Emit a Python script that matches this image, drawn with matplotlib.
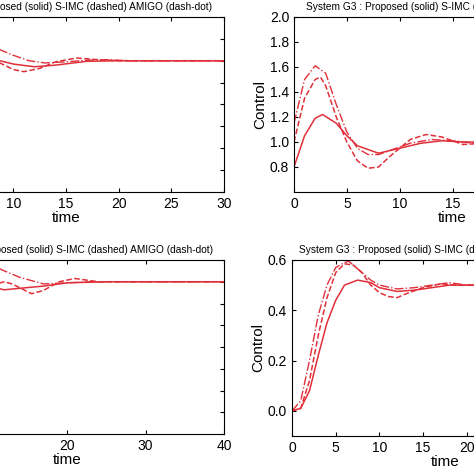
import matplotlib
matplotlib.use("Agg")
import matplotlib.pyplot as plt

plt.rcParams['font.family'] = ['Liberation Sans', 'DejaVu Sans']

# Top-left (System G2 output)
tl_t_s = [0, 2, 4, 6, 8.5, 10, 12, 14, 17, 20, 30]
tl_y_s = [0, 0.9, 1.3, 1.25, 1.205, 1.17, 1.145, 1.16, 1.195, 1.2, 1.2]
tl_t_d = [0, 2, 4, 6, 8.5, 10, 11, 12.5, 14, 16, 18, 20, 30]
tl_y_d = [0, 1.0, 1.4, 1.3, 1.19, 1.12, 1.1, 1.13, 1.19, 1.225, 1.21, 1.2, 1.2]
tl_t_c = [0, 2, 4, 6, 8.5, 10, 11.5, 13, 15, 17, 19, 21, 30]
tl_y_c = [0, 1.1, 1.45, 1.38, 1.31, 1.25, 1.2, 1.18, 1.19, 1.205, 1.21, 1.2, 1.2]

# Top-right (System G3 control)
tr_t_s = [0, 1, 2, 2.7, 4, 5, 6, 8, 10, 12, 14, 16, 20, 30]
tr_y_s = [0.8, 1.05, 1.19, 1.22, 1.15, 1.05, 0.97, 0.91, 0.95, 0.99, 1.01, 1.0, 1.0, 1.0]
tr_t_d = [0, 1, 2, 2.5, 3, 4, 5, 6, 7, 8, 9, 10, 11, 12.5, 14, 16, 18, 20, 30]
tr_y_d = [1.0, 1.35, 1.5, 1.52, 1.45, 1.2, 1.0, 0.85, 0.79, 0.8, 0.88, 0.95, 1.02, 1.06, 1.04, 0.98, 0.99, 1.0, 1.0]
tr_t_c = [0, 1, 2, 3, 4, 5, 6, 7, 8, 9, 11, 13, 15, 17, 20, 30]
tr_y_c = [1.15, 1.5, 1.61, 1.55, 1.3, 1.08, 0.95, 0.9, 0.9, 0.93, 0.99, 1.02, 1.01, 0.99, 1.0, 1.0]

# Bottom-left (System G2 output)
bl_t_s = [0, 3, 6, 8, 10, 12, 14, 17, 20, 25, 40]
bl_y_s = [0, 0.4, 0.7, 0.72, 0.68, 0.663, 0.67, 0.68, 0.695, 0.7, 0.7]
bl_t_d = [0, 3, 6, 8, 10, 12, 13, 15.5, 17, 19, 21, 24, 40]
bl_y_d = [0, 0.5, 0.78, 0.74, 0.68, 0.7, 0.69, 0.645, 0.66, 0.7, 0.715, 0.7, 0.7]
bl_t_c = [0, 3, 6, 9, 12, 14, 17, 20, 23, 40]
bl_y_c = [0, 0.6, 0.82, 0.8, 0.75, 0.72, 0.69, 0.695, 0.7, 0.7]

# Bottom-right (System G3 control)
br_t_s = [0, 1, 2, 3, 4, 5, 6, 7.5, 9, 10, 12, 14, 16, 18, 20, 35]
br_y_s = [0, 0.01, 0.08, 0.22, 0.35, 0.44, 0.5, 0.52, 0.51, 0.49, 0.475, 0.48, 0.49, 0.5, 0.5, 0.5]
br_t_d = [0, 1, 2, 3, 4, 5, 6, 7, 8, 9, 10, 11, 12, 13, 15, 17, 19, 35]
br_y_d = [0, 0.01, 0.12, 0.3, 0.45, 0.55, 0.585, 0.58, 0.55, 0.5, 0.47, 0.455, 0.45, 0.465, 0.49, 0.505, 0.5, 0.5]
br_t_c = [0, 1, 2, 3, 4, 5, 6, 6.5, 8, 9, 10, 12, 14, 16, 18, 20, 35]
br_y_c = [0, 0.04, 0.2, 0.38, 0.5, 0.57, 0.59, 0.595, 0.55, 0.52, 0.5, 0.485, 0.49, 0.5, 0.51, 0.5, 0.5]

RED = '#e0303a'
fig = plt.figure(figsize=(4.74, 4.74), dpi=100)
W = H = 474.0

def ax_at(x0, x1, y0, y1):
    return fig.add_axes([x0 / W, 1 - y1 / H, (x1 - x0) / W, (y1 - y0) / H])

specs = [
    (ax_at(-92, 224, 17, 192), 'System G2', (0, 30), (0, 1.6), [i * 0.2 for i in range(9)],
     (tl_t_s, tl_y_s, tl_t_d, tl_y_d, tl_t_c, tl_y_c), 'Output'),
    (ax_at(294, 611, 17, 192), 'System G3', (0, 30), (0.6, 2.0), [0.8, 1, 1.2, 1.4, 1.6, 1.8, 2],
     (tr_t_s, tr_y_s, tr_t_d, tr_y_d, tr_t_c, tr_y_c), 'Control'),
    (ax_at(-90, 224, 260, 434), 'System G2', (0, 40), (0, 0.8), [i * 0.1 for i in range(9)],
     (bl_t_s, bl_y_s, bl_t_d, bl_y_d, bl_t_c, bl_y_c), 'Output'),
    (ax_at(292, 598, 260, 436), 'System G3', (0, 35), (-0.1, 0.6), None,
     (br_t_s, br_y_s, br_t_d, br_y_d, br_t_c, br_y_c), 'Control'),
]

for ax, name, xl, yl, yt, d, ylab in specs:
    ax.plot(d[0], d[1], '-', color=RED, lw=1.1)
    ax.plot(d[2], d[3], '--', color=RED, lw=1.1)
    ax.plot(d[4], d[5], '-.', color=RED, lw=1.0)
    ax.set_xlim(*xl)
    ax.set_ylim(*yl)
    if yt is not None:
        ax.set_yticks(yt)
    ax.tick_params(direction='in', top=True, right=True, labelsize=10, length=3)
    ax.set_xlabel('time', fontsize=11, labelpad=0)
    ax.set_ylabel(ylab, fontsize=11, labelpad=2)
    ax.set_title(name + ' : Proposed (solid) S-IMC (dashed) AMIGO (dash-dot)', fontsize=7.3, pad=5)

fig.savefig('out.png', dpi=100)
